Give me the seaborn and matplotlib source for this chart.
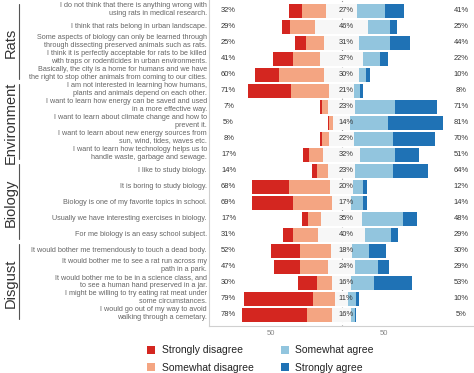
import matplotlib
matplotlib.use("Agg")
import matplotlib.pyplot as plt
import seaborn as sns
import numpy as np
from matplotlib.patches import Patch
from matplotlib.lines import Line2D
import matplotlib.transforms as mtransforms

sns.set_theme(style="white")
plt.rcParams['font.family'] = ['Liberation Sans', 'DejaVu Sans']

statements = [
    "I do not think that there is anything wrong with\nusing rats in medical research.",
    "I think that rats belong in urban landscape.",
    "Some aspects of biology can only be learned through\nthrough dissecting preserved animals such as rats.",
    "I think it is perfectly acceptable for rats to be killed\nwith traps or rodenticides in urban environments.",
    "Basically, the city is a home for humans and we have\nthe right to stop other animals from coming to our cities.",
    "I am not interested in learning how humans,\nplants and animals depend on each other.",
    "I want to learn how energy can be saved and used\nin a more effective way.",
    "I want to learn about climate change and how to\nprevent it.",
    "I want to learn about new energy sources from\nsun, wind, tides, waves etc.",
    "I want to learn how technology helps us to\nhandle waste, garbage and sewage.",
    "I like to study biology.",
    "It is boring to study biology.",
    "Biology is one of my favorite topics in school.",
    "Usually we have interesting exercises in biology.",
    "For me biology is an easy school subject.",
    "It would bother me tremendously to touch a dead body.",
    "It would bother me to see a rat run across my\npath in a park.",
    "It would bother me to be in a science class, and\nto see a human hand preserved in a jar.",
    "I might be willing to try eating rat meat under\nsome circumstances.",
    "I would go out of my way to avoid\nwalking through a cemetary.",
]
groups = ["Rats", "Environment", "Biology", "Disgust"]
group_sizes = [5, 5, 5, 5]

strongly_disagree = [11, 7.5, 9.5, 17, 21, 38, 2, 1.5, 2, 5, 4.5, 32, 35, 5, 9, 25, 23, 17, 60, 56]
somewhat_disagree = [21, 21.5, 15.5, 24, 39, 33, 5, 3.5, 6, 12, 9.5, 36, 34, 12, 22, 27, 24, 13, 19, 22]
neutral = [27, 46, 31, 37, 30, 21, 23, 14, 22, 32, 23, 20, 17, 35, 40, 18, 24, 16, 11, 16]
somewhat_agree = [24, 19, 26.5, 15, 6, 5.5, 35, 33, 34, 30, 33, 8.5, 10, 36, 23, 15, 20, 20, 7, 3.5]
strongly_agree = [17, 6, 17.5, 7, 4, 2.5, 36, 48, 36, 21, 31, 3.5, 4, 12, 6, 15, 9, 33, 3, 1.5]

legend_labels = ["Strongly disagree", "Somewhat disagree", "Somewhat agree", "Strongly agree"]
colors = ["#d42620", "#f4a582", "#92c5de", "#1f72b5"]
neutral_color = "#f7f7f7"

sd = np.array(strongly_disagree)
swd = np.array(somewhat_disagree)
nt = np.array(neutral)
sa = np.array(somewhat_agree)
sta = np.array(strongly_agree)
rows = np.arange(len(statements))

W, H = 474, 373
fig = plt.figure(figsize=(W / 100, H / 100), dpi=100)
ax = fig.add_axes([209 / W, 47 / H, 265 / W, 326 / H])

ax.axvline(0, color="#999999", lw=0.8, ls=(0, (1, 3)), zorder=0)

bw = 0.88
layers = [
    (-(nt / 2 + swd + sd), colors[0]),
    (nt / 2 + sa + sta, colors[3]),
    (-(nt / 2 + swd), colors[1]),
    (nt / 2 + sa, colors[2]),
    (-(nt / 2), neutral_color),
    (nt / 2, neutral_color),
]
for vals, col in layers:
    sns.barplot(x=vals, y=rows, orient="h", color=col, saturation=1,
                width=bw, linewidth=0, ax=ax, errorbar=None)

ax.set_xlim(-115, 115)
ax.set_ylim(len(rows) - 1 + 0.6875, -0.6875)
ax.set_ylabel("")
ax.set_xlabel("")
ax.set_yticks([])
ax.set_xticks([-61, 37])
ax.set_xticklabels(["50", "50"])
ax.tick_params(axis="x", length=0, labelsize=5.5, labelcolor="#888888", pad=3)
for s in ["top", "right"]:
    ax.spines[s].set_visible(False)
ax.spines["left"].set_color("#d0d0d0")
ax.spines["bottom"].set_color("#d0d0d0")
ax.spines["left"].set_linewidth(0.8)
ax.spines["bottom"].set_linewidth(0.8)

trans = mtransforms.blended_transform_factory(ax.transAxes, ax.transData)
for i, txt in enumerate(statements):
    ax.text(-0.008, i - 0.1 if "\n" in txt else i, txt, transform=trans, ha="right", va="center",
            fontsize=5.2, color="#666666", linespacing=1.05, clip_on=False)
    ax.text(-98, i, f"{int(round(sd[i] + swd[i]))}%", ha="center", va="center",
            fontsize=5.4, color="#333333")
    ax.text(-2.6, i, f"{int(round(nt[i]))}%", ha="left", va="center",
            fontsize=5.4, color="#333333")
    ax.text(104, i, f"{int(round(sa[i] + sta[i]))}%", ha="center", va="center",
            fontsize=5.4, color="#333333")

# group labels and brackets
start = 0
for g, n in zip(groups, group_sizes):
    top_px = 11 + 16 * start - 8
    bot_px = 11 + 16 * (start + n - 1) + 8
    yc = (top_px + bot_px) / 2
    fig.text(11 / W, 1 - yc / H, g, rotation=90, ha="center", va="center",
             fontsize=10.5, color="#333333")
    fig.add_artist(Line2D([18.5 / W, 18.5 / W], [1 - (top_px + 1) / H, 1 - (bot_px - 4) / H],
                          color="#555555", lw=0.8))
    start += n

handles = [Patch(facecolor=c, edgecolor="none") for c in colors]
fig.legend(handles, legend_labels, ncol=2, loc="center left",
           bbox_to_anchor=(147 / W, 1 - 359 / H), frameon=False, fontsize=7.5,
           handlelength=0.8, handleheight=0.8, handletextpad=0.6, columnspacing=2.6,
           labelspacing=0.7, borderpad=0, borderaxespad=0, labelcolor="#222222")

fig.savefig("out.png", dpi=100)
